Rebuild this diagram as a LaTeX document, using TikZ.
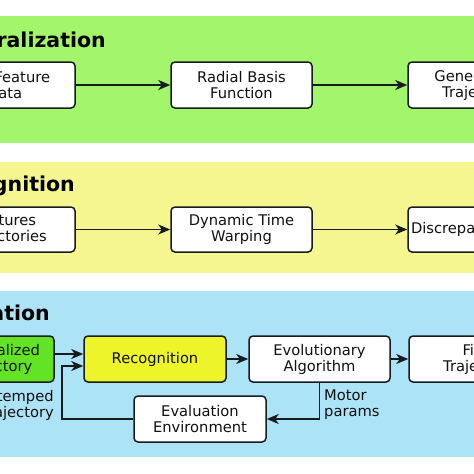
\documentclass[tikz,border=0pt]{standalone}
\usepackage{fontspec}
\setmainfont{DejaVu Sans}
\usetikzlibrary{arrows.meta}
\definecolor{bandG}{HTML}{A3F66B}
\definecolor{bandY}{HTML}{F6F691}
\definecolor{bandB}{HTML}{ADE3F7}
\definecolor{boxG}{HTML}{62E324}
\definecolor{boxY}{HTML}{EEF42A}
\definecolor{lineC}{HTML}{161C20}
\definecolor{textC}{HTML}{111111}
\newcommand\myBody{\fontsize{14.7pt}{16pt}\selectfont}
\newcommand\myTitle{\fontsize{20.5pt}{24pt}\selectfont\bfseries}
\begin{document}
\begin{tikzpicture}[x=1pt,y=-1pt,
  box/.style={draw=lineC, line width=1.5pt, rounded corners=4pt, fill=white,
    minimum height=46pt, inner sep=2pt, align=center, font=\myBody, text=textC},
  arr/.style={draw=lineC, line width=1.5pt, -{Stealth[length=12pt,width=10pt,inset=3.5pt]}},
  ttl/.style={font=\myTitle, anchor=base east, inner sep=0pt, text=black},
  lbl/.style={font=\myBody, align=center, inner sep=0pt, text=textC}]
\useasboundingbox (0,0) rectangle (474,474);
\clip (0,0) rectangle (474,474);
\fill[white] (0,0) rectangle (474,474);
% bands
\fill[bandG] (0,16) rectangle (474,143);
\fill[bandY] (0,162) rectangle (474,273);
\fill[bandB] (0,291) rectangle (474,457);
% titles
\node[ttl] (t1) at (106,47) {Generalization};
\node[ttl] (t2) at (75,191) {Recognition};
\node[ttl] (t3) at (50,320) {Evaluation};
% row 1
\node[box, minimum width=141pt] (g1) at (4.5,85) {Raw Feature\\Data};
\node[box, minimum width=141pt] (g2) at (241.5,85) {Radial Basis\\Function};
\node[box, minimum width=141pt] (g3) at (478.5,85) {Generalized\\Trajectory};
\draw[arr] (g1.east) -- (g2.west);
\draw[arr] (g2.east) -- (g3.west);
% row 2
\node[box, minimum width=141pt, minimum height=45pt] (r1) at (4.5,229.5) {Features\\Trajectories};
\node[box, minimum width=141pt, minimum height=45pt] (r2) at (241.5,229.5) {Dynamic Time\\Warping};
\node[box, minimum height=45pt, text width=135pt, align=left, inner xsep=3pt] (r3) at (478.5,229.5) {Discrepancy};
\draw[arr] (r1.east) -- (r2.west);
\draw[arr] (r2.east) -- (r3.west);
% row 3
\node[box, fill=boxG, minimum width=116pt] (e1) at (-4,359) {Generalized\\Trajectory};
\node[box, fill=boxY, minimum width=142pt] (e2) at (155,359) {Recognition};
\node[box, minimum width=141pt] (e3) at (319.5,359) {Evolutionary\\Algorithm};
\node[box, minimum width=141pt] (e4) at (479.5,359) {Final\\Trajectory};
\node[box, minimum width=132pt] (e5) at (200,419) {Evaluation\\Environment};
\draw[arr] ([yshift=5pt]e1.east) -- ([yshift=5pt]e2.west);
\draw[arr] (e2.east) -- (e3.west);
\draw[arr] (e3.east) -- (e4.west);
\draw[arr] (e3.south) |- (e5.east);
\coordinate (fb) at (62,419);
\draw[arr] (e5.west) -- (fb) |- ([yshift=-7pt]e2.west);
% labels
\node[lbl, align=left, anchor=west] (mp) at (324,405) {Motor\\params};
\node[lbl] (at) at (17.5,405) {Attemped\\Trajectory};
\end{tikzpicture}
\end{document}
